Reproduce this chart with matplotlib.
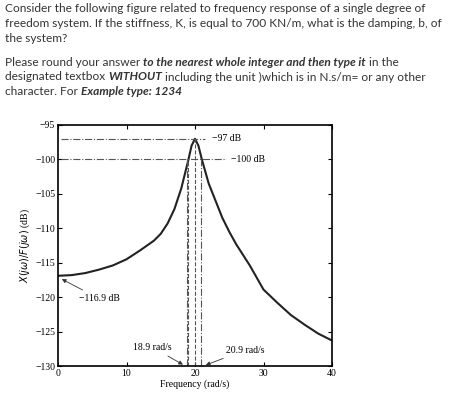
import matplotlib
matplotlib.use("Agg")
import matplotlib.pyplot as plt

freq = [0, 2, 4, 6, 8, 10, 12, 14, 15, 16, 17, 18, 19, 19.5, 20, 20.5, 21, 22, 23, 24, 25, 26, 28, 30, 32, 34, 36, 38, 40]
mag = [-116.9, -116.8, -116.5, -116.0, -115.4, -114.5, -113.2, -111.8, -110.8, -109.3, -107.2, -104.2, -100.2, -98.0, -97.0, -98.0, -100.0, -103.5, -106.0, -108.5, -110.5, -112.3, -115.4, -118.9, -120.8, -122.6, -124.0, -125.3, -126.3]
xticks = [0, 10, 20, 30, 40]
yticks = [-95, -100, -105, -110, -115, -120, -125, -130]

fig = plt.figure(figsize=(4.74, 4.01), dpi=100)
qfont = dict(family="Lato", fontsize=8.6, color="#333333")

lines = [
    [("Consider the following figure related to frequency response of a single degree of", "normal", "normal")],
    [("freedom system. If the stiffness, K, is equal to 700 KN/m, what is the damping, b, of", "normal", "normal")],
    [("the system?", "normal", "normal")],
    None,
    [("Please round your answer ", "normal", "normal"), ("to the nearest whole integer and then type it", "bold", "italic"), (" in the", "normal", "normal")],
    [("designated textbox ", "normal", "normal"), ("WITHOUT", "bold", "italic"), (" including the unit )which is in N.s/m= or any other", "normal", "normal")],
    [("character. For ", "normal", "normal"), ("Example type: 1234", "bold", "italic")],
]
fig.canvas.draw()
r = fig.canvas.get_renderer()
y = 401 - 9
for ln in lines:
    if ln is None:
        y -= 10
        continue
    x = 5
    for txt, w, s in ln:
        t = fig.text(x / 474, y / 401, txt, fontweight=w, fontstyle=s, va="center", **qfont)
        bb = t.get_window_extent(r)
        x += bb.width
    y -= 14.5

ax = fig.add_axes([58 / 474, 1 - 366 / 401, 274 / 474, 241 / 401])
sf = dict(family="Liberation Serif", fontsize=7)
ax.plot(freq, mag, color="#222222", lw=1.5)
ax.set_xlim(0, 40)
ax.set_ylim(-130, -95)
ax.set_xticks(xticks)
ax.set_yticks(yticks)
ax.set_xticklabels([str(v) for v in xticks], **sf)
ax.set_yticklabels([f"\u2212{abs(v)}" for v in yticks], **sf)
ax.tick_params(direction="in", top=True, right=True, length=3, pad=2)
for s in ax.spines.values():
    s.set_linewidth(1.2)
ax.set_xlabel("Frequency (rad/s)", labelpad=1, **sf)
ax.set_ylabel("$X(j\\omega)/F(j\\omega)$ (dB)", labelpad=2, family="Liberation Serif", fontsize=7)

g = "#555555"
ax.plot([0.5, 21.5], [-97, -97], color=g, lw=0.8, ls="-.")
ax.plot([0.5, 24.5], [-100, -100], color=g, lw=0.8, ls="-.")
ax.plot([18.9, 18.9], [-130, -100], color=g, lw=0.8, ls="-.")
ax.plot([20.9, 20.9], [-130, -100], color=g, lw=0.8, ls="-.")
ax.plot([19.05, 19.05], [-130, -100], color=g, lw=0.8, ls="--")
ax.plot([20.0, 20.0], [-130, -97], color=g, lw=0.8, ls="--")
ax.text(22.5, -97, "\u221297 dB", va="center", **sf)
ax.text(25.3, -100, "\u2212100 dB", va="center", **sf)
ap = dict(arrowstyle="-|>", color="#333333", lw=0.6, mutation_scale=6)
ax.annotate("\u2212116.9 dB", xy=(0.2, -117.2), xytext=(3.0, -120.2), va="center", arrowprops=ap, **sf)
ax.annotate("18.9 rad/s", xy=(18.6, -130), xytext=(11.0, -127.3), va="center", arrowprops=ap, **sf)
ax.annotate("20.9 rad/s", xy=(21.2, -130), xytext=(24.5, -127.7), va="center", arrowprops=ap, **sf)

fig.savefig("out.png", dpi=100)
